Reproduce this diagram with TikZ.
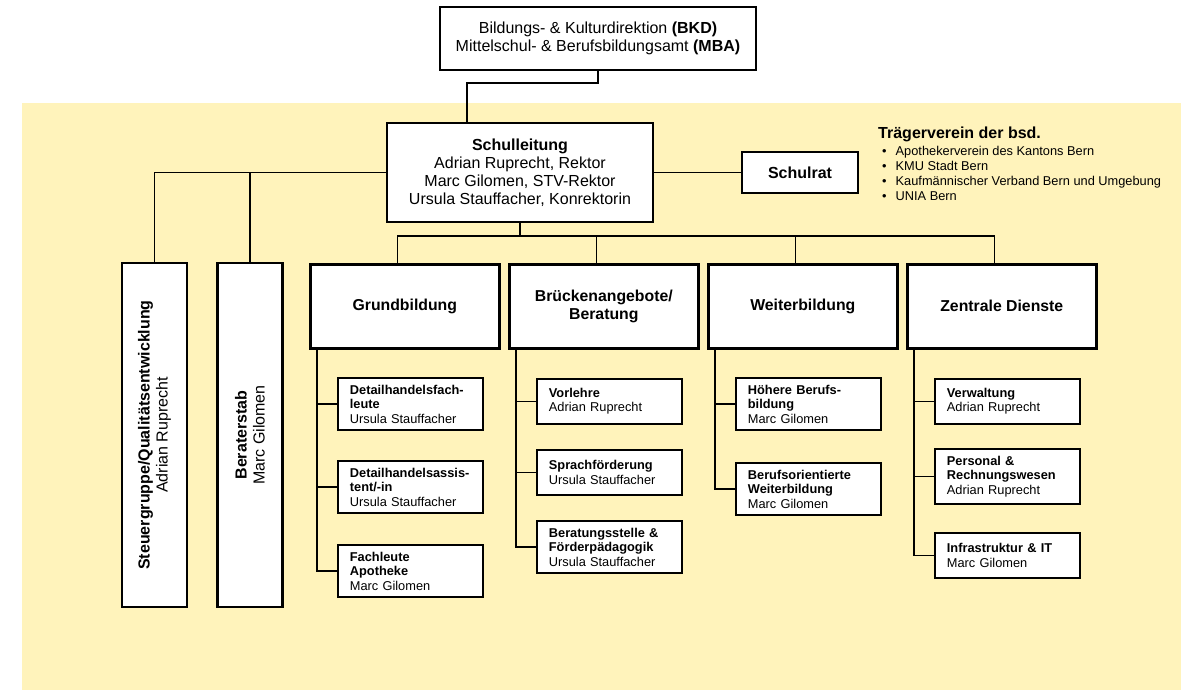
\documentclass[tikz,border=0pt]{standalone}
\usepackage{fontspec}
\setmainfont{Liberation Sans}
\usetikzlibrary{positioning}
\definecolor{bgyellow}{RGB}{255,243,187}

\begin{document}
\begin{tikzpicture}[
    x=1pt, y=-1pt,
    box/.style={rectangle, draw, line width=2.6pt, fill=white, inner sep=2pt, align=center, font=\fontsize{16}{18}\selectfont},
    catbox/.style={box, anchor=north west, minimum width=189pt, minimum height=84pt, font=\fontsize{15.8}{18.5}\selectfont\bfseries},
    sidebox/.style={box, rotate=90, minimum width=344pt, minimum height=65pt},
    subbox/.style={rectangle, draw, line width=1.8pt, fill=white, anchor=north west, minimum width=145pt, text width=121pt, minimum height=45pt, inner xsep=12pt, inner ysep=7pt, align=left, font=\fontsize{12.8}{14.5}\selectfont},
    line/.style={line width=1.3pt}
]
    \useasboundingbox (0,0) rectangle (1200,698);
    \fill[bgyellow] (22,103) rectangle (1181,690);

    % Top
    \node[box, minimum width=316pt, minimum height=63pt] (bkd) at (598,38.5) {Bildungs- \& Kulturdirektion \textbf{(BKD)}\\Mittelschul- \& Berufsbildungsamt \textbf{(MBA)}};
    \node[box, minimum width=266pt, minimum height=99pt] (sl) at (520,172.5) {\textbf{Schulleitung}\\Adrian Ruprecht, Rektor\\Marc Gilomen, STV-Rektor\\Ursula Stauffacher, Konrektorin};
    \node[box, minimum width=116pt, minimum height=41pt, font=\fontsize{16}{18}\selectfont\bfseries] (rat) at (800,172.5) {Schulrat};

    \node[anchor=north west, align=left, inner sep=0pt, font=\fontsize{12.8}{15}\selectfont] (traeger) at (878,127)
        {{\fontsize{16}{18}\selectfont\bfseries Trägerverein der bsd.}\\[1.5pt]
         \hspace{4pt}\textbullet\hspace{9pt}Apothekerverein des Kantons Bern\\
         \hspace{4pt}\textbullet\hspace{9pt}KMU Stadt Bern\\
         \hspace{4pt}\textbullet\hspace{9pt}Kaufmännischer Verband Bern und Umgebung\\
         \hspace{4pt}\textbullet\hspace{9pt}UNIA Bern};

    % Side boxes
    \node[sidebox] (steuer) at (154.5,435) {\textbf{Steuergruppe/Qualitätsentwicklung}\\Adrian Ruprecht};
    \node[sidebox] (berater) at (250,435) {\textbf{Beraterstab}\\Marc Gilomen};

    % Departments
    \node[catbox] (grund) at (309,263) {Grundbildung};
    \node[catbox] (brueck) at (508,263) {Brückenangebote/\\Beratung};
    \node[catbox] (weiter) at (707,263) {Weiterbildung};
    \node[catbox] (zd) at (906,263) {Zentrale Dienste};

    % Grundbildung
    \node[subbox] (g1) at (337,377) {\textbf{Detailhandelsfach-\\leute}\\Ursula Stauffacher};
    \node[subbox] (g2) at (337,460) {\textbf{Detailhandelsassis-\\tent/-in}\\Ursula Stauffacher};
    \node[subbox] (g3) at (337,544) {\textbf{Fachleute\\Apotheke}\\Marc Gilomen};

    % Brueckenangebote
    \node[subbox] (b1) at (536,378) {\textbf{Vorlehre}\\Adrian Ruprecht};
    \node[subbox] (b2) at (536,449) {\textbf{Sprachförderung}\\Ursula Stauffacher};
    \node[subbox] (b3) at (536,520) {\textbf{Beratungsstelle \&\\Förderpädagogik}\\Ursula Stauffacher};

    % Weiterbildung
    \node[subbox] (w1) at (735,377) {\textbf{Höhere Berufs-\\bildung}\\Marc Gilomen};
    \node[subbox] (w2) at (735,462) {\textbf{Berufsorientierte\\Weiterbildung}\\Marc Gilomen};

    % Zentrale Dienste
    \node[subbox] (z1) at (934,378) {\textbf{Verwaltung}\\Adrian Ruprecht};
    \node[subbox] (z2) at (934,448) {\textbf{Personal \&\\Rechnungswesen}\\Adrian Ruprecht};
    \node[subbox] (z3) at (934,532) {\textbf{Infrastruktur \& IT}\\Marc Gilomen};

    % Connectors
    \draw[line] (bkd.south) |- ([xshift=-53pt]sl.north |- 0,83) -- ([xshift=-53pt]sl.north);
    \draw[line] (sl.east) -- (rat.west);
    \draw[line] (sl.west) -| (steuer.east);
    \draw[line] (berater.east |- sl.west) -- (berater.east);
    \draw[line] (sl.south) -- (sl.south |- 0,236) coordinate (bus);
    \draw[line] ([xshift=-7pt]grund.north) |- ([xshift=-7pt]zd.north |- bus) -- ([xshift=-7pt]zd.north);
    \foreach \c in {brueck, weiter}
        \draw[line] ([xshift=-7pt]\c.north) -- ([xshift=-7pt]\c.north |- bus);

    \draw[line] ([xshift=-20pt]g1.west |- grund.south) |- (g3.west);
    \draw[line] ([xshift=-20pt]b1.west |- brueck.south) |- (b3.west);
    \draw[line] ([xshift=-20pt]w1.west |- weiter.south) |- (w2.west);
    \draw[line] ([xshift=-20pt]z1.west |- zd.south) |- (z3.west);
    \foreach \s in {g1, g2, b1, b2, w1, z1, z2}
        \draw[line] (\s.west) -- ++(-20pt,0);
\end{tikzpicture}
\end{document}
